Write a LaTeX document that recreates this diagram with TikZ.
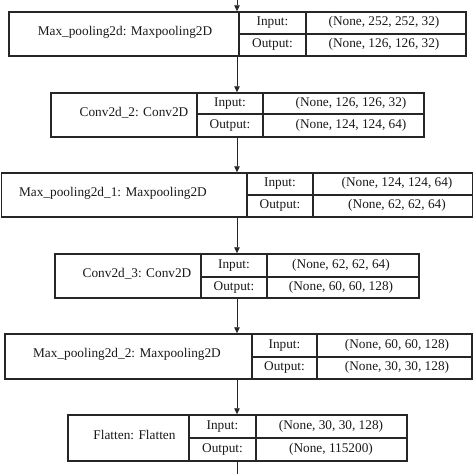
\documentclass[tikz,border=0pt]{standalone}
\usepackage{fontspec}
\setmainfont{Liberation Serif}
\usetikzlibrary{arrows.meta,calc}
\tikzset{
  outerbox/.style={draw=black!85, line width=1.5pt, inner sep=0pt, fill=none},
  innerline/.style={draw=black!85, line width=1.1pt},
  txt/.style={inner sep=0pt, font=\fontsize{13.3}{15}\selectfont, text=black!90, text height=0.68em, text depth=0.2em},
  flow/.style={draw=black!85, line width=0.8pt, -{Triangle[width=5.5pt,length=6pt]}},
  flowend/.style={draw=black!85, line width=0.8pt}
}
\begin{document}
\begin{tikzpicture}[x=1pt,y=-1pt]
\useasboundingbox (0,0) rectangle (474,474);
\coordinate (top) at (237,0);
\coordinate (bot) at (237,474);

% ---- Block 1
\draw[innerline] (239,12) -- (239,56) (306,12) -- (306,56) (239,34) -- (466,34);
\node[outerbox, minimum width=457pt, minimum height=44pt] (b1) at (237.5,34) {};
\node[txt] (b1n) at (125,33) {Max\_pooling2d: Maxpooling2D};
\node[txt] (b1i) at (272.5,23.5) {Input:};
\node[txt] (b1o) at (272.5,45.5) {Output:};
\node[txt] (b1iv) at (384,23.5) {(None, 252, 252, 32)};
\node[txt] (b1ov) at (384,45.5) {(None, 126, 126, 32)};

% ---- Block 2
\draw[innerline] (197,93) -- (197,137) (263,93) -- (263,137) (197,114) -- (424,114);
\node[outerbox, minimum width=373pt, minimum height=44pt] (b2) at (237.5,115) {};
\node[txt] (b2n) at (134,114) {Conv2d\_2: Conv2D};
\node[txt] (b2i) at (230,104) {Input:};
\node[txt] (b2o) at (230,126) {Output:};
\node[txt] (b2iv) at (351,104) {(None, 126, 126, 32)};
\node[txt] (b2ov) at (351,126) {(None, 124, 124, 64)};

% ---- Block 3
\draw[innerline] (247,173) -- (247,217) (313,173) -- (313,217) (247,195) -- (472.5,195);
\node[outerbox, minimum width=471pt, minimum height=44pt] (b3) at (237,195) {};
\node[txt] (b3n) at (113,194) {Max\_pooling2d\_1: Maxpooling2D};
\node[txt] (b3i) at (280,184.5) {Input:};
\node[txt] (b3o) at (280,206.5) {Output:};
\node[txt] (b3iv) at (397,184.5) {(None, 124, 124, 64)};
\node[txt] (b3ov) at (397,206.5) {(None, 62, 62, 64)};

% ---- Block 4
\draw[innerline] (201,254) -- (201,298) (267,254) -- (267,298) (201,277) -- (419,277);
\node[outerbox, minimum width=364pt, minimum height=44pt] (b4) at (237,276) {};
\node[txt] (b4n) at (137,275) {Conv2d\_3: Conv2D};
\node[txt] (b4i) at (234,266) {Input:};
\node[txt] (b4o) at (234,288) {Output:};
\node[txt] (b4iv) at (341,266) {(None, 62, 62, 64)};
\node[txt] (b4ov) at (341,288) {(None, 60, 60, 128)};

% ---- Block 5
\draw[innerline] (252,334) -- (252,379) (317,334) -- (317,379) (252,357) -- (472,357);
\node[outerbox, minimum width=467pt, minimum height=45pt] (b5) at (238.5,356.5) {};
\node[txt] (b5n) at (127,355.5) {Max\_pooling2d\_2: Maxpooling2D};
\node[txt] (b5i) at (284.5,346) {Input:};
\node[txt] (b5o) at (284.5,368.5) {Output:};
\node[txt] (b5iv) at (397,346) {(None, 60, 60, 128)};
\node[txt] (b5ov) at (397,368.5) {(None, 30, 30, 128)};

% ---- Block 6
\draw[innerline] (189,415) -- (189,461) (256,415) -- (256,461) (189,438) -- (407,438);
\node[outerbox, minimum width=339pt, minimum height=46pt] (b6) at (237.5,438) {};
\node[txt] (b6n) at (134.5,437) {Flatten: Flatten};
\node[txt] (b6i) at (222.5,427) {Input:};
\node[txt] (b6o) at (222.5,450) {Output:};
\node[txt] (b6iv) at (331,427) {(None, 30, 30, 128)};
\node[txt] (b6ov) at (331,450) {(None, 115200)};

% ---- connectors
\draw[flow] (top) -- (b1.north -| top);
\draw[flow] (b1.south -| top) -- (b2.north -| top);
\draw[flow] (b2.south -| top) -- (b3.north -| top);
\draw[flow] (b3.south -| top) -- (b4.north -| top);
\draw[flow] (b4.south -| top) -- (b5.north -| top);
\draw[flow] (b5.south -| top) -- (b6.north -| top);
\draw[flowend] (b6.south -| top) -- (bot);
\end{tikzpicture}
\end{document}
